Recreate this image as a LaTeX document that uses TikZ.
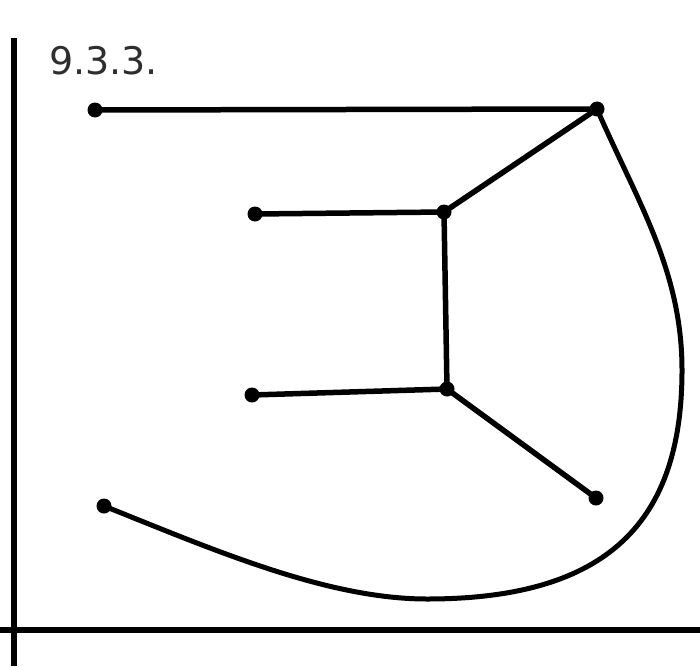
\documentclass[tikz,border=0pt]{standalone}
\usepackage{fontspec}
\setmainfont{DejaVu Sans}
\begin{document}
\begin{tikzpicture}[x=1pt,y=-1pt,
  vtx/.style={circle,fill=black,inner sep=0pt,minimum size=15pt},
  edge/.style={line width=5.5pt,black},
  frame/.style={line width=5.5pt,black}]
\useasboundingbox (0,0) rectangle (700,666);
\fill[white] (0,0) rectangle (700,666);
% frame lines
\coordinate (vt) at (14,38);
\coordinate (vb) at (14,666);
\coordinate (hl) at (0,630);
\coordinate (hr) at (700,630);
\draw[frame] (vt) -- (vb);
\draw[frame] (hl) -- (hr);
% label
\node[anchor=base west,inner sep=0pt,text=black!82,font=\fontsize{38}{40}\selectfont] (lbl) at (49,75) {9.3.3.};
% vertices
\node[vtx] (A) at (95,110) {};
\node[vtx] (B) at (597,109) {};
\node[vtx] (C) at (444,212) {};
\node[vtx] (D) at (255,214) {};
\node[vtx] (E) at (447,389) {};
\node[vtx] (F) at (252,395) {};
\node[vtx] (G) at (596,498) {};
\node[vtx] (H) at (104,506) {};
\coordinate (R) at (682,370);
\coordinate (Bot) at (427,599);
% edges
\draw[edge] (A.center) -- (B.center);
\draw[edge] (B.center) -- (C.center);
\draw[edge] (C.center) -- (D.center);
\draw[edge] (C.center) -- (E.center);
\draw[edge] (E.center) -- (F.center);
\draw[edge] (E.center) -- (G.center);
\draw[edge,line width=5pt] (B.center) .. controls (637,201) and (682,270) .. (R)
  .. controls (682,520) and (610,599) .. (Bot)
  .. controls (327,599) and (214,550) .. (H.center);
\end{tikzpicture}
\end{document}
